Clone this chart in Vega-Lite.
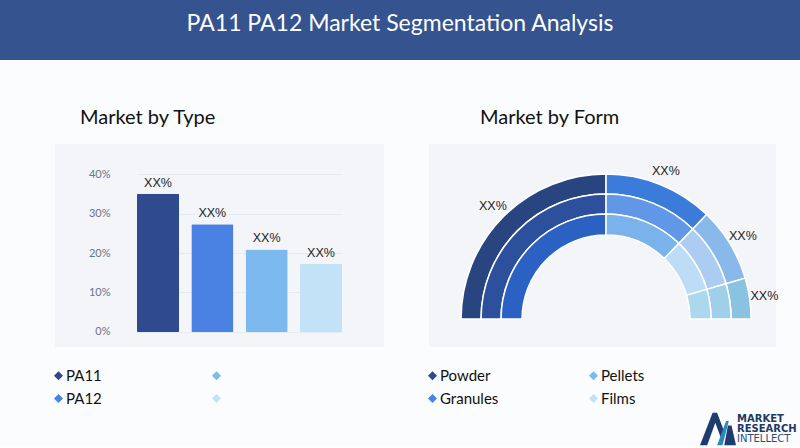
{
  "$schema": "https://vega.github.io/schema/vega-lite/v6.json",
  "background": "#fbfcfe",
  "padding": 0,
  "config": {"view": {"stroke": null}, "font": "Lato"},
  "bounds": "flush",
  "spacing": 84,
  "resolve": {"scale": {"x": "independent", "y": "independent", "color": "independent", "theta": "independent"}, "legend": {"color": "independent"}},
  "vconcat": [
    {
      "width": 800,
      "height": 60,
      "view": {"fill": "#34538f", "stroke": null},
      "data": {"values": [{"title": "PA11 PA12 Market Segmentation Analysis"}]},
      "mark": {"type": "text", "color": "#ffffff", "fontSize": 23, "font": "Lato", "baseline": "alphabetic", "dy": 1},
      "encoding": {"text": {"field": "title"}}
    },
    {
      "bounds": "flush",
      "spacing": 270,
      "resolve": {"scale": {"x": "independent", "y": "independent", "color": "independent", "theta": "independent"}, "legend": {"color": "independent"}},
      "vconcat": [
        {
          "bounds": "flush",
          "spacing": 45,
          "resolve": {"scale": {"x": "independent", "y": "independent", "color": "independent", "theta": "independent"}, "legend": {"color": "independent"}},
          "hconcat": [
            {"width": 10, "height": 10, "data": {"values": []}, "mark": "point", "encoding": {}},
            {
              "width": 329,
              "height": 203,
              "view": {"fill": "#f3f5f9", "stroke": null},
              "title": {"text": "Market by Type", "anchor": "start", "dx": 25, "fontSize": 20, "font": "Lato", "fontWeight": "normal", "color": "#111111", "offset": 16, "frame": "group"},
              "data": {"values": [
                {"type": "PA11", "share": 0.35, "label": "XX%"},
                {"type": "PA12", "share": 0.273, "label": "XX%"},
                {"type": "Type 3", "share": 0.209, "label": "XX%"},
                {"type": "Type 4", "share": 0.173, "label": "XX%"}
              ]},
              "encoding": {
                "x": {"field": "type", "type": "nominal", "sort": ["PA11", "PA12", "Type 3", "Type 4"], "axis": null,
                      "scale": {"range": [82, 287], "paddingInner": 0.2265, "paddingOuter": 0}},
                "y": {"field": "share", "type": "quantitative",
                      "scale": {"domain": [-0.038, 0.476], "nice": false, "zero": false},
                      "axis": {"values": [0, 0.1, 0.2, 0.3, 0.4], "format": ".0%", "title": null, "domain": false, "ticks": false,
                               "offset": -65, "labelPadding": 10, "labelColor": "#6b7385", "labelFontSize": 11, "labelFont": "Lato",
                               "grid": true, "gridColor": "#e6eaf1"}}
              },
              "layer": [
                {
                  "mark": {"type": "bar", "cornerRadius": 1},
                  "encoding": {
                    "color": {"field": "type", "type": "nominal",
                              "scale": {"domain": ["PA11", "PA12", "Type 3", "Type 4"], "range": ["#2f4a8e", "#4a82e4", "#7cb9ef", "#c2e2f8"]},
                              "legend": {"title": null, "orient": "none", "legendX": -4, "legendY": 224, "columns": 2,
                                         "symbolType": "diamond", "symbolSize": 81, "symbolStrokeWidth": 0,
                                         "labelFontSize": 15, "labelFont": "Lato", "labelColor": "#111111",
                                         "columnPadding": 107, "rowPadding": 7, "labelOffset": 0, "padding": 0,
                                         "labelExpr": "indexof(['PA11','PA12'], datum.label) >= 0 ? datum.label : ''"}}
                  }
                },
                {
                  "mark": {"type": "text", "baseline": "bottom", "dy": -4, "fontSize": 12.5, "font": "Liberation Sans", "color": "#222222"},
                  "encoding": {"text": {"field": "label"}}
                }
              ]
            },
            {
              "width": 347,
              "height": 203,
              "view": {"fill": "#f3f5f9", "stroke": null},
              "title": {"text": "Market by Form", "anchor": "start", "dx": 51, "fontSize": 20, "font": "Lato", "fontWeight": "normal", "color": "#111111", "offset": 16, "frame": "group"},
              "data": {"values": [
                {"segment": "Powder", "ring": "outer", "part": "Powder outer", "o": 1, "value": 50, "label": "XX%"},
                {"segment": "Granules", "ring": "outer", "part": "Granules outer", "o": 2, "value": 24.4, "label": "XX%"},
                {"segment": "Pellets", "ring": "outer", "part": "Pellets outer", "o": 3, "value": 16.5, "label": "XX%"},
                {"segment": "Films", "ring": "outer", "part": "Films outer", "o": 4, "value": 9.1, "label": "XX%"},
                {"segment": "Powder", "ring": "middle", "part": "Powder middle", "o": 1, "value": 50, "label": "XX%"},
                {"segment": "Granules", "ring": "middle", "part": "Granules middle", "o": 2, "value": 24.4, "label": "XX%"},
                {"segment": "Pellets", "ring": "middle", "part": "Pellets middle", "o": 3, "value": 16.5, "label": "XX%"},
                {"segment": "Films", "ring": "middle", "part": "Films middle", "o": 4, "value": 9.1, "label": "XX%"},
                {"segment": "Powder", "ring": "inner", "part": "Powder inner", "o": 1, "value": 50, "label": "XX%"},
                {"segment": "Granules", "ring": "inner", "part": "Granules inner", "o": 2, "value": 24.4, "label": "XX%"},
                {"segment": "Pellets", "ring": "inner", "part": "Pellets inner", "o": 3, "value": 16.5, "label": "XX%"},
                {"segment": "Films", "ring": "inner", "part": "Films inner", "o": 4, "value": 9.1, "label": "XX%"}
              ]},
              "encoding": {
                "x": {"datum": 0, "type": "quantitative", "scale": {"domain": [-1.221, 1.172], "nice": false, "zero": false}, "axis": null},
                "y": {"datum": 0, "type": "quantitative", "scale": {"domain": [-0.193, 1.207], "nice": false, "zero": false}, "axis": null},
                "theta": {"field": "value", "type": "quantitative", "stack": true, "scale": {"domain": [0, 100], "range": [-1.5708, 1.5708]}},
                "order": {"field": "o"}
              },
              "layer": [
                {
                  "transform": [{"filter": "datum.ring == 'outer'"}],
                  "mark": {"type": "arc", "radius": 145, "radius2": 125, "stroke": "#ffffff", "strokeWidth": 1.5},
                  "encoding": {"color": {"field": "part", "type": "nominal",
                    "scale": {"domain": ["Powder", "Granules", "Pellets", "Films", "Powder outer", "Powder middle", "Powder inner", "Granules outer", "Granules middle", "Granules inner", "Pellets outer", "Pellets middle", "Pellets inner", "Films outer", "Films middle", "Films inner"],
                              "range": ["#2f4a8e", "#4a82e4", "#7cb9ef", "#c2e2f8", "#28457f", "#2c509c", "#2b61c2", "#3b7bd9", "#6197e7", "#7ab2eb", "#89b8ea", "#acccf1", "#bcddf5", "#8ac2e2", "#a0cfe9", "#acd8ee"]},
                    "legend": {"title": null, "values": ["Powder", "Granules", "Pellets", "Films"], "orient": "none", "legendX": -4, "legendY": 224, "columns": 2,
                               "symbolType": "diamond", "symbolSize": 81, "symbolStrokeWidth": 0, "symbolOpacity": 1,
                               "labelFontSize": 15, "labelFont": "Lato", "labelColor": "#111111",
                               "columnPadding": 87, "rowPadding": 7, "labelOffset": 0, "padding": 0}}}
                },
                {
                  "transform": [{"filter": "datum.ring == 'middle'"}],
                  "mark": {"type": "arc", "radius": 125, "radius2": 105, "stroke": "#ffffff", "strokeWidth": 1.5},
                  "encoding": {"color": {"field": "part", "type": "nominal"}}
                },
                {
                  "transform": [{"filter": "datum.ring == 'inner'"}],
                  "mark": {"type": "arc", "radius": 105, "radius2": 84, "stroke": "#ffffff", "strokeWidth": 1.5},
                  "encoding": {"color": {"field": "part", "type": "nominal"}}
                },
                {
                  "transform": [{"filter": "datum.ring == 'outer'"}],
                  "mark": {"type": "text", "radius": 160, "fontSize": 12.5, "font": "Liberation Sans", "color": "#222222"},
                  "encoding": {"text": {"field": "label"}, "detail": {"field": "segment"}}
                }
              ]
            }
          ]
        },
        {
          "bounds": "flush",
          "spacing": 0,
          "resolve": {"scale": {"x": "independent", "y": "independent", "color": "independent"}},
          "hconcat": [
            {"width": 700, "height": 10, "data": {"values": []}, "mark": "point", "encoding": {}},
            {
              "width": 100,
              "height": 30,
              "data": {"values": [
                {"line": "MARKET", "w": "bold"},
                {"line": "RESEARCH", "w": "bold"},
                {"line": "INTELLECT", "w": "normal"}
              ]},
              "encoding": {
                "x": {"datum": 37, "type": "quantitative", "scale": {"domain": [0, 100], "nice": false, "zero": false}, "axis": null},
                "y": {"field": "line", "type": "nominal", "scale": {"domain": ["MARKET", "RESEARCH", "INTELLECT"]}, "axis": null}
              },
              "layer": [
                {
                  "transform": [{"filter": "datum.w == 'bold'"}],
                  "mark": {"type": "text", "align": "left", "baseline": "middle", "fontSize": 10, "fontWeight": "bold", "font": "DejaVu Sans", "color": "#1f3a63"},
                  "encoding": {"text": {"field": "line"}}
                },
                {
                  "transform": [{"filter": "datum.w == 'normal'"}],
                  "mark": {"type": "text", "align": "left", "baseline": "middle", "fontSize": 10, "font": "DejaVu Sans", "color": "#2b4c7e"},
                  "encoding": {"text": {"field": "line"}}
                },
                {
                  "transform": [{"filter": "datum.line == 'RESEARCH'"}],
                  "mark": {"type": "point", "filled": true, "opacity": 1, "size": 1296, "color": "#1e3c6e",
                           "shape": "M-1,0.9 L-0.3,-0.9 L-0.05,-0.9 L0.35,0.15 L0.2,0.6 L-0.15,-0.35 L-0.6,0.9 Z M0.35,0.9 L0.55,-0.2 L0.75,-0.2 L1,0.9 Z"},
                  "encoding": {"x": {"datum": 18}}
                },
                {
                  "transform": [{"filter": "datum.line == 'RESEARCH'"}],
                  "mark": {"type": "point", "filled": true, "opacity": 1, "size": 1296, "color": "#2f86bd",
                           "shape": "M-0.05,0.9 L0.45,-0.45 L0.6,-0.45 L0.25,0.9 Z"},
                  "encoding": {"x": {"datum": 18}}
                }
              ]
            }
          ]
        }
      ]
    }
  ]
}
